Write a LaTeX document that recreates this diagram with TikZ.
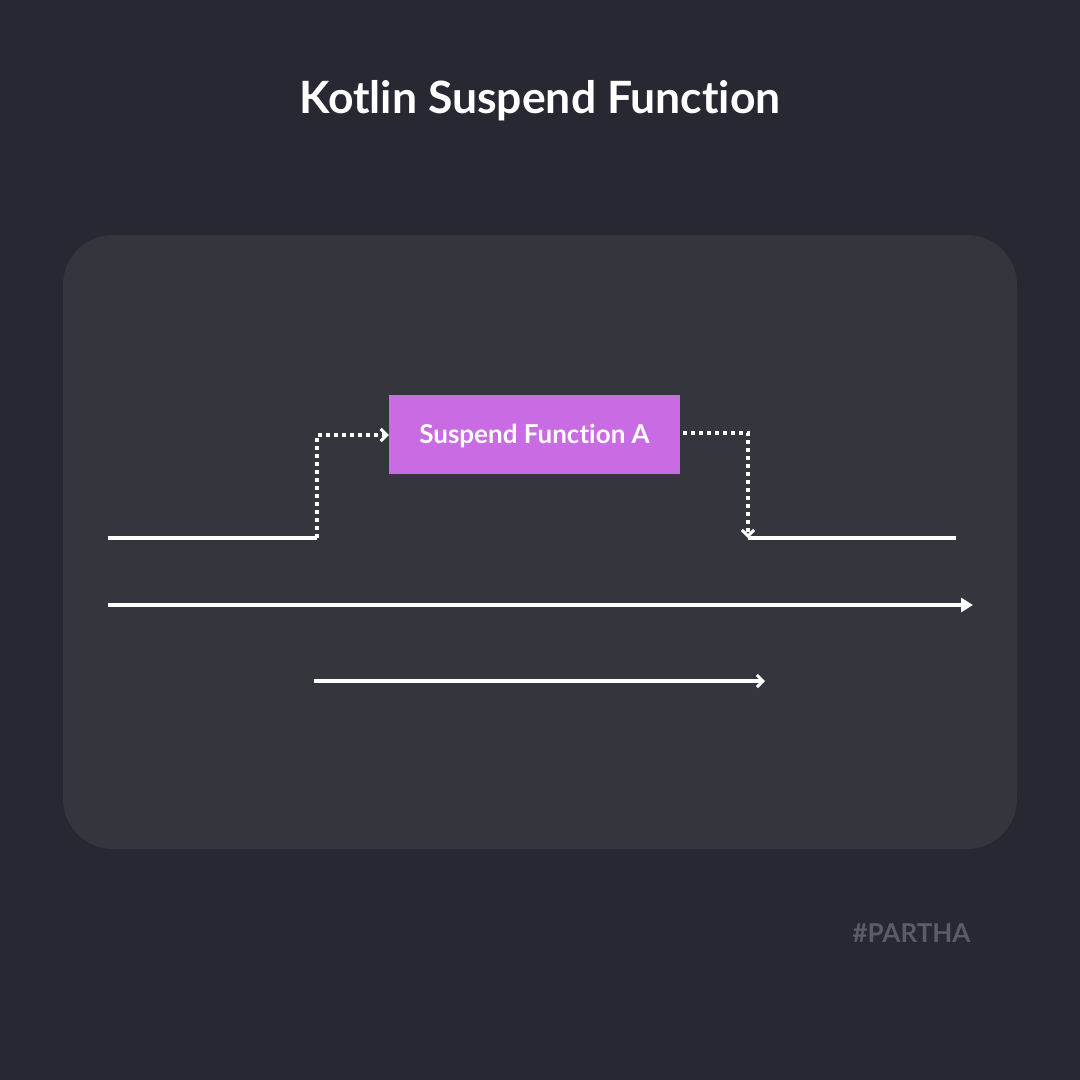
\documentclass[tikz,border=0pt]{standalone}
\usepackage{fontspec}
\setmainfont{Lato}[Ligatures={NoCommon,NoRequired,NoContextual}]
\usetikzlibrary{arrows.meta}
\definecolor{bgdark}{HTML}{282832}
\definecolor{panel}{HTML}{35353E}
\definecolor{violet}{HTML}{C96BE3}
\definecolor{mark}{HTML}{5C5C66}
\begin{document}
\begin{tikzpicture}[x=1pt,y=-1pt,
  line/.style={draw=white,line width=3.5pt},
  dotline/.style={draw=white,line width=4pt,dash pattern=on 4pt off 4pt},
  barb/.style={-{Straight Barb[length=6pt,width=12pt,line width=3pt]}},
  tri/.style={-{Triangle[length=12pt,width=14pt]}},
  funcbox/.style={fill=violet,minimum width=291pt,minimum height=79pt,inner sep=0pt,text=white}]
\useasboundingbox (0,0) rectangle (1080,1080);
\fill[bgdark] (0,0) rectangle (1080,1080);
\fill[panel,rounded corners=50pt] (63,235) rectangle (1017,849);
\node[text=white,font=\bfseries\fontsize{44.5}{52}\selectfont] (title) at (540,101) {Kotlin Suspend Function};
\node[funcbox] (fa) at (534.5,434.5) {};
\node[text=white,font=\bfseries\fontsize{26}{30}\selectfont] (fatext) at ([yshift=-2pt]fa.center) {Suspend Function A};
\node[text=mark,font=\bfseries\fontsize{26}{30}\selectfont] (tag) at (911.5,933) {\#PARTHA};
% top path
\coordinate (a1) at (108,538);
\coordinate (a2) at (316.5,538);
\coordinate (a3) at (316.5,435);
\coordinate (b1) at (748,433);
\coordinate (b2) at (748,538);
\coordinate (b3) at (956,538);
\draw[line] (a1) -- (a2);
\draw[dotline,barb] (a2) -- (a3) -- (a3 -| fa.west);
\draw[dotline,barb] ([xshift=3pt]fa.east |- b1) -- (b1) -- (b2);
\draw[line] (b2) -- (b3);
% main thread line
\coordinate (m1) at (108,605);
\coordinate (m2) at (973,605);
\draw[line,tri] (m1) -- (m2);
% lower line
\coordinate (l1) at (314,681);
\coordinate (l2) at (765,681);
\draw[line,barb] (l1) -- (l2);
\end{tikzpicture}
\end{document}
